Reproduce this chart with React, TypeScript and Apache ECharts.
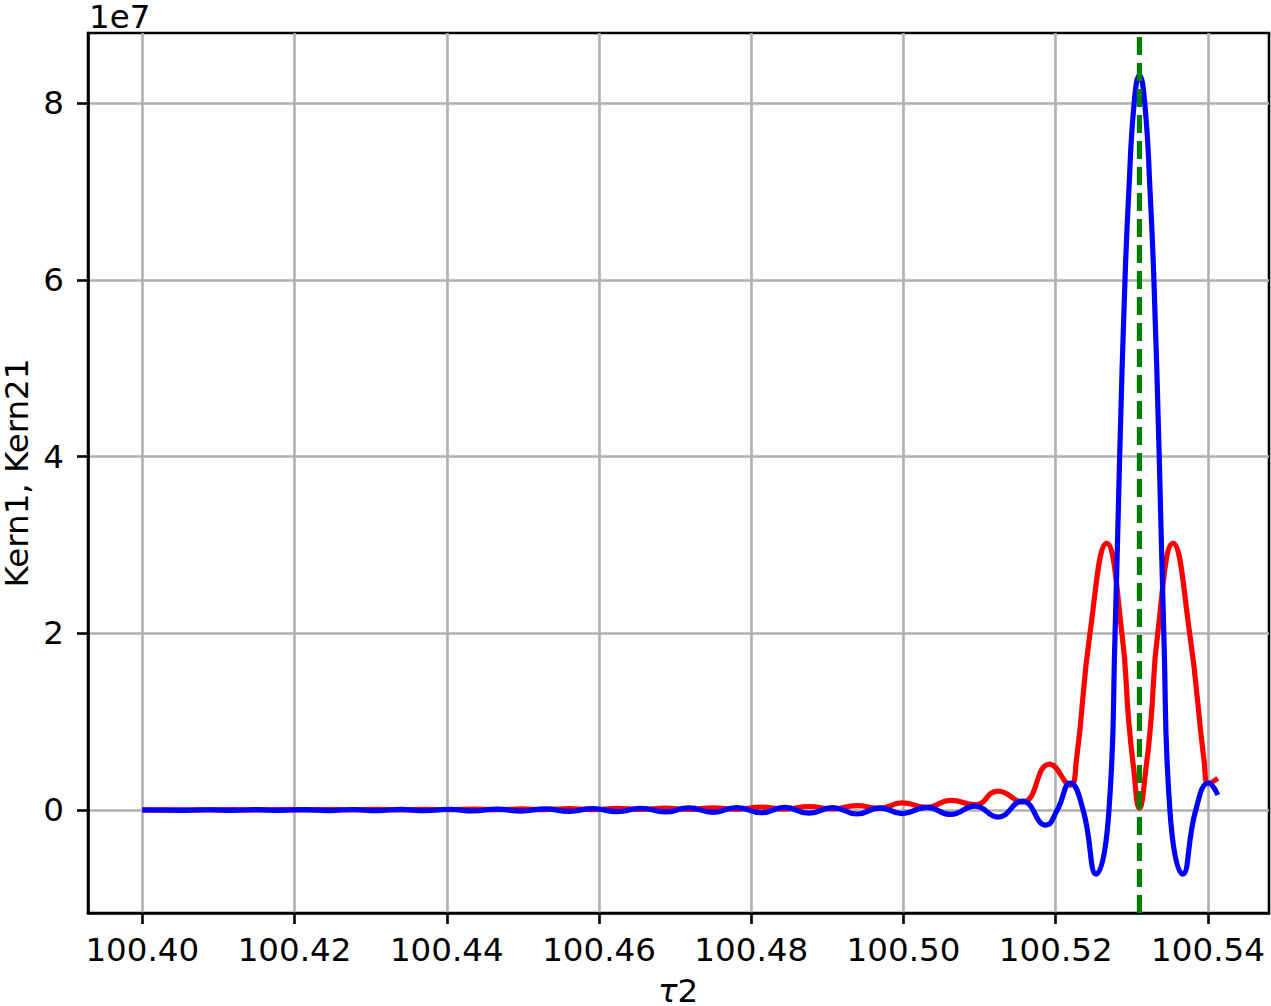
import React, { useEffect, useRef } from "react";
import * as echarts from "echarts";

// Kern1 (red), values in units of 1e7
const redX = [
  100.4, 100.4056, 100.4088, 100.4119, 100.4151, 100.4182, 100.4214, 100.4245, 100.4277, 100.4308,
  100.434, 100.4371, 100.4403, 100.4434, 100.4466, 100.4498, 100.4529, 100.4561, 100.4592, 100.4624,
  100.4655, 100.4687, 100.4718, 100.475, 100.4781, 100.4813, 100.4844, 100.4876, 100.4907, 100.4939,
  100.4969, 100.4998, 100.5031, 100.5062, 100.5094, 100.5124, 100.5156, 100.5192, 100.5219, 100.5227,
  100.5245, 100.5267, 100.5287, 100.5296, 100.5302, 100.531, 100.5319, 100.5325, 100.5334, 100.5354,
  100.5376, 100.5395, 100.5401, 100.5413,
];
const redY = [
  0.002, 0.003, 0.001, 0.004, 0.001, 0.005, 0.002, 0.006, 0.002, 0.007,
  0.002, 0.008, 0.003, 0.01, 0.003, 0.012, 0.004, 0.015, 0.005, 0.018,
  0.006, 0.022, 0.007, 0.026, 0.008, 0.032, 0.01, 0.04, 0.012, 0.05,
  0.018, 0.08, 0.03, 0.11, 0.06, 0.215, 0.09, 0.52, 0.283, 0.55,
  2.0, 3.02, 2.0, 1.0, 0.5, 0.02, 0.5, 1.0, 2.0, 3.02,
  2.0, 0.55, 0.3, 0.36,
];

// Kern21 (blue), values in units of 1e7
const blueX = [
  100.4, 100.4056, 100.4088, 100.4119, 100.4151, 100.4182, 100.4214, 100.4245, 100.4277, 100.4308,
  100.434, 100.4371, 100.4403, 100.4434, 100.4466, 100.4498, 100.4529, 100.4561, 100.4592, 100.4624,
  100.4655, 100.4687, 100.4718, 100.475, 100.4781, 100.4813, 100.4844, 100.4876, 100.4907, 100.4939,
  100.4969, 100.4998, 100.5031, 100.5062, 100.5094, 100.5124, 100.5156, 100.5187, 100.5202, 100.5219,
  100.5236, 100.5253, 100.527, 100.5278, 100.5284, 100.5291, 100.5296, 100.5303, 100.531, 100.5317,
  100.5324, 100.5329, 100.5336, 100.5342, 100.535, 100.5367, 100.5384, 100.5401, 100.5413,
];
const blueY = [
  0, -0.003, 0.003, -0.004, 0.004, -0.005, 0.005, -0.006, 0.006, -0.007,
  0.007, -0.008, 0.009, -0.01, 0.011, -0.012, 0.013, -0.015, 0.016, -0.018,
  0.02, -0.022, 0.024, -0.026, 0.028, -0.031, 0.03, -0.036, 0.028, -0.045,
  0.025, -0.04, 0.03, -0.05, 0.045, -0.08, 0.1, -0.17, 0.0, 0.306,
  0.0, -0.725, 0.0, 2.0, 4.0, 6.0, 7.0, 8.0, 8.32, 8.0,
  7.0, 6.0, 4.0, 2.0, 0.0, -0.725, 0.0, 0.306, 0.17,
];

const peakX = 100.531;
const xTicks = [100.4, 100.42, 100.44, 100.46, 100.48, 100.5, 100.52, 100.54];
const yTicks = [0, 2, 4, 6, 8];
const xRange = [100.39287, 100.54802];
const yRange = [-1.166, 8.798];

const FONT = "DejaVu Sans";
const FS = 32.5;
const LW = 5.2;

export default function App() {
  const ref = useRef<HTMLDivElement>(null);
  useEffect(() => {
    if (!ref.current) return;
    const chart = echarts.init(ref.current, undefined, { renderer: "svg" });
    const red = redX.map((x, i) => [x, redY[i]]);
    const blue = blueX.map((x, i) => [x, blueY[i]]);
    chart.setOption({
      animation: false,
      backgroundColor: "#ffffff",
      grid: {
        left: 88,
        right: 2,
        top: 33,
        bottom: 93,
        show: true,
        borderColor: "#000",
        borderWidth: 2.6,
      },
      xAxis: {
        type: "value",
        min: xRange[0],
        max: xRange[1],
        axisLine: { show: true, onZero: false, lineStyle: { color: "#000", width: 2.6 } },
        axisTick: {
          show: true,
          length: 11,
          lineStyle: { color: "#000", width: 2.6 },
          customValues: xTicks,
        },
        axisLabel: {
          customValues: xTicks,
          formatter: (v: number) => v.toFixed(2),
          fontSize: FS,
          fontFamily: FONT,
          color: "#000",
          margin: 20,
        },
        splitLine: { show: true, lineStyle: { color: "#b0b0b0", width: 2.6 } },
      },
      yAxis: {
        type: "value",
        min: yRange[0],
        max: yRange[1],
        axisLine: { show: true, onZero: false, lineStyle: { color: "#000", width: 2.6 } },
        axisTick: {
          show: true,
          length: 11,
          lineStyle: { color: "#000", width: 2.6 },
          customValues: yTicks,
        },
        axisLabel: {
          customValues: yTicks,
          formatter: (v: number) => String(Math.round(v)),
          fontSize: FS,
          fontFamily: FONT,
          color: "#000",
          margin: 24,
        },
        splitLine: { show: true, lineStyle: { color: "#b0b0b0", width: 2.6 } },
      },
      series: [
        {
          name: "Kern1",
          type: "line",
          data: red,
          symbol: "none",
          smooth: 0.5,
          lineStyle: { color: "#ff0000", width: LW },
          z: 2,
        },
        {
          name: "Kern21",
          type: "line",
          data: blue,
          symbol: "none",
          smooth: 0.5,
          lineStyle: { color: "#0000ff", width: LW },
          z: 3,
        },
        {
          name: "peak",
          type: "line",
          data: [
            [peakX, yRange[0]],
            [peakX, yRange[1]],
          ],
          symbol: "none",
          lineStyle: { color: "#008000", width: LW, type: [18, 8] },
          z: 4,
        },
      ],
      graphic: [
        {
          type: "text",
          x: 89,
          y: 17,
          style: {
            text: "1e7",
            fontSize: FS,
            fontFamily: FONT,
            fill: "#000",
            align: "left",
            verticalAlign: "middle",
          },
        },
        {
          type: "text",
          x: 17,
          y: 473,
          rotation: Math.PI / 2,
          style: {
            text: "Kern1, Kern21",
            fontSize: FS,
            fontFamily: FONT,
            fill: "#000",
            align: "center",
            verticalAlign: "middle",
          },
        },
        {
          type: "text",
          x: 678,
          y: 991,
          style: {
            text: "{i|τ}2",
            fontSize: FS,
            fontFamily: FONT,
            fill: "#000",
            align: "center",
            verticalAlign: "middle",
            rich: {
              i: { fontStyle: "italic", fontSize: FS, fontFamily: FONT, fill: "#000" },
            },
          },
        },
      ],
    });
    return () => chart.dispose();
  }, []);
  return (
    <div
      ref={ref}
      style={{ position: "fixed", left: 0, top: 0, width: 1271, height: 1006, background: "#fff" }}
    />
  );
}
